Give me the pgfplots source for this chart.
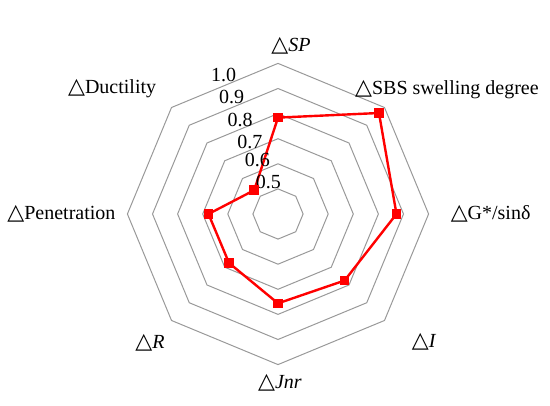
\documentclass[border=0pt]{standalone}
\usepackage{fontspec}
\setmainfont{Liberation Serif}
\newfontfamily\dejavu{DejaVu Sans}
\usepackage{graphicx}
\usepackage{pgfplots}
\usepackage{pgfplotstable}
\pgfplotsset{compat=1.18}
\newcommand{\tri}{{\dejavu\scalebox{1.1}{△}}}

\pgfplotstableread{
a v
90 0.784
45 0.969
0 0.872
-45 0.775
-90 0.756
-135 0.676
180 0.677
135 0.534
90 0.784
}\datatab

\pgfplotstableread{
a one
90 1
45 1
0 1
-45 1
-90 1
-135 1
180 1
135 1
90 1
}\angles

\begin{document}
\begin{tikzpicture}
\begin{axis}[
  x=125.5pt, y=125.5pt,
  xmin=-1.1076, xmax=1.0837, ymin=-0.7649, ymax=0.8526,
  hide axis, clip=false,
]
\path (axis cs:-1.1076,-0.7649) rectangle (axis cs:1.0837,0.8526);
\pgfplotsinvokeforeach{0.5,0.6,0.7,0.8,0.9,1.0}{
  \addplot[color=gray!80, line width=0.5pt, no marks]
    table[x expr={cos(\thisrow{a})*(#1-0.4)}, y expr={sin(\thisrow{a})*(#1-0.4)}]{\angles};
}
\addplot[color=red, line width=1.2pt, mark=square*, mark size=1.8pt, mark options={solid}]
  table[x expr={cos(\thisrow{a})*(\thisrow{v}-0.4)}, y expr={sin(\thisrow{a})*(\thisrow{v}-0.4)}]{\datatab};

\node at (axis cs:-0.217,0.554) {1.0};
\node at (axis cs:-0.185,0.466) {0.9};
\node at (axis cs:-0.151,0.375) {0.8};
\node at (axis cs:-0.112,0.287) {0.7};
\node at (axis cs:-0.082,0.215) {0.6};
\node at (axis cs:-0.038,0.127) {0.5};

\node at (axis cs:0.052,0.669) {\tri\textit{SP}};
\node at (axis cs:0.673,0.494) {\tri SBS swelling degree};
\node at (axis cs:0.847,0.0) {\tri G*/sinδ};
\node at (axis cs:0.582,-0.510) {\tri\textit{I}};
\node at (axis cs:0.008,-0.673) {\tri\textit{Jnr}};
\node at (axis cs:-0.510,-0.514) {\tri\textit{R}};
\node at (axis cs:-0.863,0.0) {\tri Penetration};
\node at (axis cs:-0.661,0.498) {\tri Ductility};
\end{axis}
\end{tikzpicture}
\end{document}
